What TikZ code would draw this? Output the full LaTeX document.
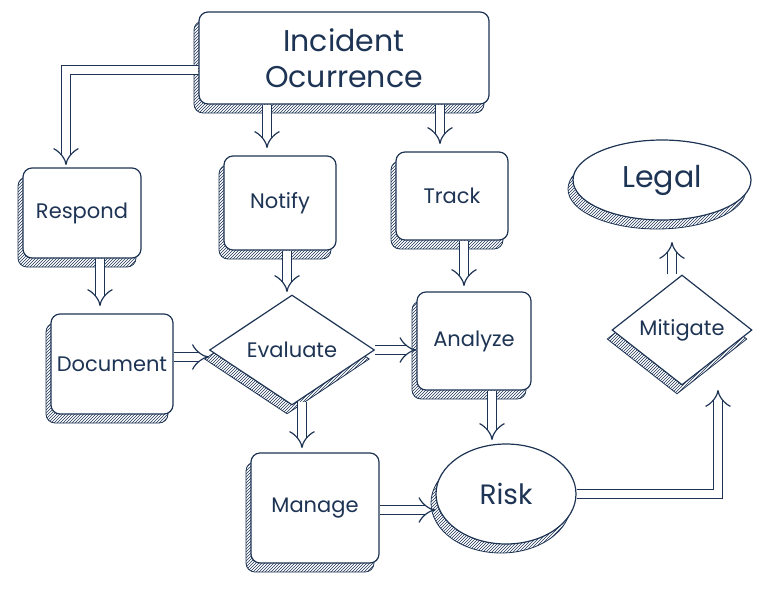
\documentclass[tikz,border=0pt]{standalone}
\usepackage{fontspec}
\setmainfont{Poppins}
\usetikzlibrary{shapes.geometric,shadows,patterns,arrows.meta}
\definecolor{ink}{RGB}{30,52,84}

\tikzset{
  hatch/.style={general shadow={shadow xshift=-5pt,shadow yshift=-9pt,
      pattern=north east lines,pattern color=ink,draw=ink,thick}},
  stepbox/.style={rectangle,rounded corners=9pt,draw=ink,very thick,fill=white,
      hatch,text=ink,font=\fontsize{21}{24}\selectfont,inner sep=0pt},
  choice/.style={diamond,draw=ink,very thick,fill=white,hatch,text=ink,
      font=\fontsize{21}{24}\selectfont,inner sep=0pt,aspect=1.5},
  blob/.style={ellipse,draw=ink,very thick,fill=white,hatch,text=ink,inner sep=0pt},
  fat/.style={draw=ink,very thick,double=white,double distance=8pt,-{Implies}}
}

\begin{document}
\begin{tikzpicture}[x=1pt,y=-1pt]
\useasboundingbox (0,0) rectangle (768,603);

%boxes
\node[stepbox,minimum width=290pt,minimum height=92pt,align=center,
      font=\fontsize{30}{36}\selectfont] (inc) at (344,58) {Incident\\Ocurrence};
\node[stepbox,minimum width=118pt,minimum height=90pt] (resp) at (82,213) {Respond};
\node[stepbox,minimum width=112pt,minimum height=94pt] (noti) at (280,203) {Notify};
\node[stepbox,minimum width=112pt,minimum height=88pt] (trac) at (452,196) {Track};
\node[blob,minimum width=178pt,minimum height=80pt,font=\fontsize{30}{34}\selectfont] (legl) at (662,180) {Legal};
\node[stepbox,minimum width=122pt,minimum height=100pt] (docu) at (112,364) {Document};
\node[choice,minimum width=165pt,minimum height=110pt] (eval) at (292,350) {Evaluate};
\node[stepbox,minimum width=114pt,minimum height=98pt] (anal) at (474,341) {Analyze};
\node[choice,minimum width=140pt,minimum height=110pt] (miti) at (682,330) {Mitigate};
\node[stepbox,minimum width=128pt,minimum height=110pt] (mana) at (315,508) {Manage};
\node[blob,minimum width=140pt,minimum height=100pt,font=\fontsize{28}{32}\selectfont] (risk) at (506,494) {Risk};

%arrows
\draw[fat] (inc.west |- 0,70) -- (66,70) -- (66,165);
\draw[fat] (267,0 |- inc.south) -- (267,148);
\draw[fat] (440,0 |- inc.south) -- (440,144);
\draw[fat] (100,0 |- resp.south) -- (100,306);
\draw[fat] (287,0 |- noti.south) -- (287,292);
\draw[fat] (464,0 |- trac.south) -- (464,286);
\draw[fat] (docu.east |- 0,357) -- (eval.west |- 0,357);
\draw[fat] (eval.east |- 0,350) -- (anal.west |- 0,350);
\draw[fat] (302,402) -- (302,448);
\draw[fat] (492,0 |- anal.south) -- (492,440);
\draw[fat] (mana.east |- 0,510) -- (risk.west |- 0,510);
\draw[fat] (risk.east |- 0,494) -- (718,494) -- (718,390);
\draw[fat] (672,0 |- miti.north) -- (672,242);
\end{tikzpicture}
\end{document}
